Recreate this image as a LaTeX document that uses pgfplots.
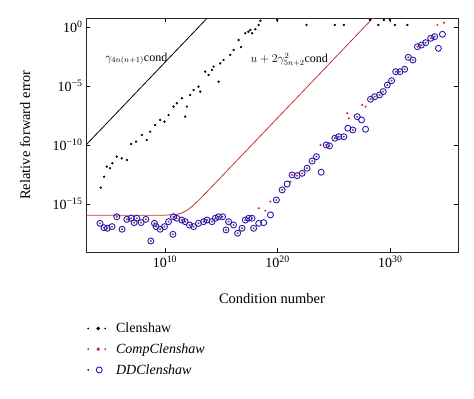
\documentclass[border=0pt]{standalone}
\usepackage{pgfplots}
\pgfplotsset{compat=1.18}
\usepackage{fontspec}
\setmainfont{Liberation Serif}
\definecolor{ddblue}{RGB}{30,30,180}
\definecolor{cred}{RGB}{210,40,40}
\definecolor{lred}{RGB}{200,50,50}
\begin{document}
\begin{tikzpicture}[x=1pt,y=1pt]
\path (0,0) rectangle (474,-399);
\begin{axis}[
  at={(86pt,-252pt)}, anchor=south west,
  scale only axis, width=372pt, height=234pt,
  xmin=3, xmax=36, ymin=-19.07, ymax=0.76,
  xtick={10,20,30}, xticklabels={10\textsuperscript{10},10\textsuperscript{20},10\textsuperscript{30}},
  ytick={-15,-10,-5,0}, yticklabels={10\textsuperscript{−15},10\textsuperscript{−10},10\textsuperscript{−5},10\textsuperscript{0}},
  tick align=inside, major tick length=4pt,
  tick style={black, line width=0.6pt},
  axis line style={line width=0.8pt, black!85},
  ticklabel style={font=\fontsize{14}{16}\selectfont},
  xlabel={Condition number}, ylabel={Relative forward error},
  label style={font=\fontsize{14.5}{16}\selectfont},
  xlabel style={at={(axis description cs:0.5,-0.197)}, anchor=center},
  ylabel style={at={(axis description cs:-0.164,0.5)}, anchor=center},
  legend style={at={(axis description cs:-0.005,-0.285)}, anchor=north west, draw=none, fill=none,
    font=\fontsize{14}{16}\selectfont, row sep=5.5pt, cells={anchor=west}},
  legend cell align=left,
]
% reference lines (log10 values)
\addplot[black, line width=0.8pt, forget plot] coordinates {(3,-10) (14,1)};
\addplot[lred, line width=0.8pt, forget plot] coordinates {(3,-15.96) (10,-15.95) (11,-15.89) (11.5,-15.76) (12,-15.51) (12.5,-15.13) (13,-14.68) (13.5,-14.19) (14,-13.70) (15,-12.70) (29,1.30)};
% Clenshaw
\addplot[only marks, mark=*, mark size=0.95pt, black,
  legend image code/.code={\fill[black] (0pt,0pt) circle (0.7pt); \fill[black] (10pt,0pt) circle (1.5pt); \fill[black] (17pt,0pt) circle (0.7pt);}]
coordinates {
(4.31,-13.62) (4.60,-12.69) (4.84,-11.84) (5.13,-11.97) (5.34,-11.55) (5.73,-10.99) (6.17,-11.13) (6.62,-11.27)
(7.00,-9.92) (7.44,-9.72) (7.95,-9.15) (8.39,-9.58) (8.69,-8.87) (9.13,-8.31) (9.58,-7.88) (9.96,-8.02)
(10.32,-7.46) (10.76,-6.75) (11.06,-6.47) (11.50,-6.04) (11.80,-7.60) (11.95,-6.75) (12.24,-5.76) (12.54,-5.34)
(12.98,-5.06) (13.13,-5.48) (13.58,-3.79) (13.87,-4.07) (14.17,-3.64) (14.32,-3.36) (14.76,-4.64) (14.91,-3.08)
(15.20,-2.80) (15.80,-2.37) (16.09,-1.95) (16.54,-1.10) (16.75,-1.70) (17.13,-0.53) (17.40,-0.40) (17.58,-0.25)
(17.73,-0.53) (18.02,-0.19) (18.32,0.17) (18.47,0.53) (19.95,0.59) (22.56,0.17) (25.07,0.17) (25.87,0.17)
(28.18,0.59) (28.93,0.17) (29.43,0.59) (29.96,0.59) (30.40,0.17) (31.51,0.17)
};
\addlegendentry{\hspace*{8pt}Clenshaw}
% CompClenshaw
\addplot[only marks, mark=*, mark size=0.8pt, cred,
  legend image code/.code={\fill[cred] (0pt,0pt) circle (0.7pt); \fill[cred] (10pt,0pt) circle (1.5pt); \fill[cred] (17pt,0pt) circle (0.7pt);}]
coordinates {
(4.24,-16.64) (4.60,-17.01) (4.89,-17.06) (5.31,-16.92) (5.73,-16.08) (6.20,-17.14) (6.62,-16.30) (7.00,-16.21)
(7.27,-16.58) (7.51,-16.21) (7.89,-16.58) (8.31,-16.30) (8.75,-18.14) (9.07,-16.64) (9.22,-16.92) (9.58,-17.14)
(9.96,-16.92) (10.32,-16.50) (10.71,-17.57) (10.76,-16.08) (11.06,-16.21) (11.50,-16.36) (11.80,-16.50) (12.18,-16.78)
(12.54,-16.92) (12.98,-16.64) (13.43,-16.50) (13.73,-16.36) (14.17,-16.50) (14.47,-16.21) (14.76,-16.08) (15.12,-16.08)
(15.42,-17.20) (15.65,-16.50) (16.09,-16.78) (16.45,-17.48) (16.84,-17.06) (17.13,-16.36) (17.43,-16.21) (17.73,-16.21)
(17.87,-17.06) (18.32,-15.36) (18.91,-15.57) (19.36,-14.80) (19.89,-14.66) (20.40,-13.81) (21.13,-13.11) (21.28,-12.54)
(21.73,-12.60) (22.17,-12.40) (22.61,-11.97) (23.06,-11.36) (23.44,-10.99) (23.80,-10.00) (24.31,-10.0) (24.60,-10.08)
(25.07,-9.43) (25.42,-9.30) (25.87,-9.30) (26.17,-7.31) (26.32,-7.74) (26.67,-8.73) (27.06,-7.60) (27.50,-6.61)
(27.80,-6.75) (28.24,-6.13) (28.60,-5.91) (29.04,-5.76) (29.37,-5.48) (29.73,-4.92) (30.11,-4.55) (30.47,-3.79)
(30.85,-3.79) (31.27,-3.58) (31.59,-2.57) (32.00,-2.80) (32.40,-1.67) (32.75,-1.53) (33.13,-1.33) (33.58,-0.96)
(33.93,-0.82) (34.17,0.17) (34.76,0.36)
};
\addlegendentry{\hspace*{8pt}\textit{CompClenshaw}}
% DDClenshaw
\addplot[only marks, mark=o, mark size=3pt, ddblue, mark options={line width=0.9pt},
  legend image code/.code={\fill[ddblue] (0pt,0pt) circle (0.7pt); \draw[ddblue, line width=0.9pt] (11pt,0pt) circle (3pt);}]
coordinates {
(4.24,-16.64) (4.60,-17.01) (4.89,-17.06) (5.31,-16.92) (5.73,-16.08) (6.20,-17.14) (6.62,-16.30) (7.00,-16.21)
(7.27,-16.58) (7.51,-16.21) (7.89,-16.58) (8.31,-16.30) (8.75,-18.14) (9.07,-16.64) (9.22,-16.92) (9.58,-17.14)
(9.96,-16.92) (10.32,-16.50) (10.71,-17.57) (10.76,-16.08) (11.06,-16.21) (11.50,-16.36) (11.80,-16.50) (12.18,-16.78)
(12.54,-16.92) (12.98,-16.64) (13.43,-16.50) (13.73,-16.36) (14.17,-16.50) (14.47,-16.21) (14.76,-16.08) (15.12,-16.08)
(15.42,-17.20) (15.65,-16.50) (16.09,-16.78) (16.45,-17.48) (16.84,-17.06) (17.13,-16.36) (17.43,-16.21) (17.73,-16.21)
(17.87,-17.06) (18.32,-16.64) (18.76,-16.58) (19.36,-15.93) (19.89,-14.66) (20.40,-13.81) (20.84,-13.31) (21.28,-12.54)
(21.73,-12.60) (22.17,-12.40) (22.61,-11.97) (23.06,-11.36) (23.44,-10.99) (23.86,-12.31) (24.31,-10.0) (24.60,-10.08)
(25.07,-9.43) (25.42,-9.30) (25.87,-9.30) (26.23,-8.58) (26.67,-8.73) (27.06,-7.60) (27.44,-7.88) (27.80,-8.67)
(28.24,-6.13) (28.60,-5.91) (29.04,-5.76) (29.37,-5.48) (29.73,-4.92) (30.11,-4.55) (30.47,-3.79) (30.85,-3.79)
(31.27,-3.58) (31.59,-2.57) (32.00,-2.80) (32.40,-1.67) (32.75,-1.53) (33.13,-1.33) (33.58,-0.96) (33.93,-0.82)
(34.26,-1.81) (34.62,-0.62)
};
\addlegendentry{\hspace*{8pt}\textit{DDClenshaw}}
\node[anchor=west, font=\fontsize{12}{14}\selectfont] at (axis cs:4.4,-2.7) {$\gamma_{4n(n+1)}$cond};
\node[anchor=west, font=\fontsize{12}{14}\selectfont] at (axis cs:17.3,-2.8) {$u+2\gamma^2_{5n+2}$cond};
\end{axis}
\end{tikzpicture}
\end{document}
